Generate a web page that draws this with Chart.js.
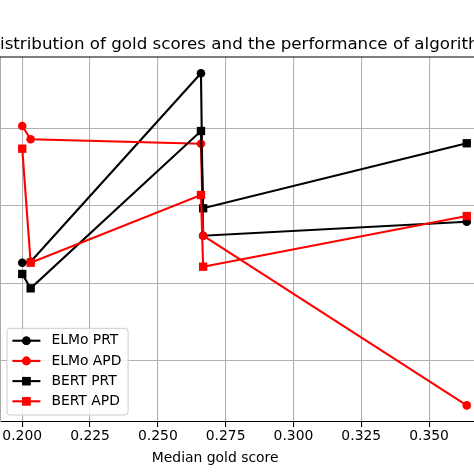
<!DOCTYPE html>
<html><head><meta charset="utf-8">
<script src="https://cdn.jsdelivr.net/npm/chart.js@4.4.0/dist/chart.umd.min.js"></script>
<style>
html,body{margin:0;padding:0;overflow:hidden;background:#fff;width:474px;height:474px;}
#c{position:absolute;left:-41px;top:0;}
</style></head><body>
<canvas id="c" width="570" height="474"></canvas>
<script>
// ---- data ----
const medianGold = [0.2000, 0.2031, 0.2659, 0.2667, 0.3639];
const seriesNames = ['ELMo PRT', 'ELMo APD', 'BERT PRT', 'BERT APD'];
const elmoPRT = [0.3267, 0.3280, 0.5709, 0.3615, 0.3796];
const elmoAPD = [0.5030, 0.4858, 0.4801, 0.3615, 0.1429];
const bertPRT = [0.3122, 0.2937, 0.4965, 0.3969, 0.4807];
const bertAPD = [0.4737, 0.3267, 0.4140, 0.3216, 0.3869];
const xTicks = [0.200, 0.225, 0.250, 0.275, 0.300, 0.325, 0.350];
const xTickLabels = ['0.200', '0.225', '0.250', '0.275', '0.300', '0.325', '0.350'];
const yTicks = [0.2, 0.3, 0.4, 0.5];
const titleText = 'Distribution of gold scores and the performance of algorithms';
const xLabelText = 'Median gold score';

const FONT = "'DejaVu Sans', sans-serif";
const seriesValues = [elmoPRT, elmoAPD, bertPRT, bertAPD];
const seriesColors = ['#000000', '#ff0000', '#000000', '#ff0000'];
const seriesMarkers = ['circle', 'circle', 'rect', 'rect'];
const markerRadius = {circle: 4.3, rect: 5.9};

const datasets = seriesValues.map((vals, i) => ({
  label: seriesNames[i],
  data: vals.map((v, j) => ({x: medianGold[j], y: v})),
  borderColor: seriesColors[i],
  backgroundColor: seriesColors[i],
  pointBackgroundColor: seriesColors[i],
  pointBorderColor: seriesColors[i],
  pointBorderWidth: 0,
  pointStyle: seriesMarkers[i],
  pointRadius: markerRadius[seriesMarkers[i]],
  borderWidth: 2.1,
  tension: 0,
  fill: false,
  showLine: true,
  order: -i
}));

const framePlugin = {
  id: 'frame',
  afterDraw(chart) {
    const {ctx, chartArea: a} = chart;
    ctx.save();
    // top spine
    ctx.strokeStyle = '#000';
    ctx.lineWidth = 1.1;
    ctx.beginPath();
    ctx.moveTo(a.left, a.top);
    ctx.lineTo(a.right, a.top);
    ctx.stroke();
    // title (the figure is cropped: first letter falls left of the view)
    ctx.fillStyle = '#000';
    ctx.font = "16.7px " + FONT;
    ctx.textAlign = 'left';
    ctx.textBaseline = 'alphabetic';
    const wD = ctx.measureText(titleText.charAt(0)).width;
    ctx.fillText(titleText, a.left - wD, a.top - 8.3);
    // x label
    ctx.font = "13.9px " + FONT;
    ctx.textAlign = 'center';
    ctx.fillText(xLabelText, a.left + (a.right - a.left) * 0.44, a.bottom + 40);
    // legend
    let tw = 0;
    chart.data.datasets.forEach(d => { tw = Math.max(tw, ctx.measureText(d.label).width); });
    const bx = a.left + 7, by = a.bottom - 7 - 86.7;
    const bw = 5.4 + 28 + 11 + tw + 6.7, bh = 86.7;
    ctx.beginPath();
    if (ctx.roundRect) ctx.roundRect(bx, by, bw, bh, 3); else ctx.rect(bx, by, bw, bh);
    ctx.fillStyle = 'rgba(255,255,255,0.8)';
    ctx.fill();
    ctx.strokeStyle = '#cccccc';
    ctx.lineWidth = 1;
    ctx.stroke();
    chart.data.datasets.forEach((d, i) => {
      const cy = by + 12.4 + i * 20.2;
      const x0 = bx + 5.4, x1 = x0 + 28;
      ctx.strokeStyle = d.borderColor;
      ctx.lineWidth = d.borderWidth;
      ctx.beginPath(); ctx.moveTo(x0, cy); ctx.lineTo(x1, cy); ctx.stroke();
      ctx.fillStyle = d.backgroundColor;
      Chart.helpers.drawPoint(ctx, {pointStyle: d.pointStyle, radius: d.pointRadius, borderWidth: 0, rotation: 0}, (x0 + x1) / 2, cy);
      ctx.fill();
      ctx.fillStyle = '#000';
      ctx.textAlign = 'left';
      ctx.textBaseline = 'middle';
      ctx.fillText(d.label, x1 + 11, cy);
    });
    ctx.restore();
  }
};

new Chart(document.getElementById('c'), {
  type: 'scatter',
  data: {datasets},
  options: {
    responsive: false,
    animation: false,
    events: [],
    layout: {padding: {left: 41, right: 40, top: 57, bottom: 28.3}},
    plugins: {
      legend: {display: false},
      tooltip: {enabled: false},
      title: {display: false}
    },
    scales: {
      x: {
        type: 'linear',
        min: 0.1918,
        max: 0.3721,
        afterBuildTicks: s => { s.ticks = xTicks.map(v => ({value: v})); },
        ticks: {
          callback: (v, i) => xTickLabels[i],
          color: '#000',
          font: {family: FONT, size: 13.9},
          padding: 1,
          maxRotation: 0,
          autoSkip: false
        },
        grid: {color: '#b0b0b0', lineWidth: 1.1, tickColor: '#000', tickLength: 5, tickWidth: 1.1},
        border: {color: '#000', width: 1.1}
      },
      y: {
        type: 'linear',
        min: 0.1214,
        max: 0.5919,
        afterBuildTicks: s => { s.ticks = yTicks.map(v => ({value: v})); },
        ticks: {display: false},
        grid: {color: '#b0b0b0', lineWidth: 1.1, drawTicks: false},
        border: {color: '#aaaaaa', width: 1}
      }
    }
  },
  plugins: [framePlugin]
});
</script>
</body></html>
